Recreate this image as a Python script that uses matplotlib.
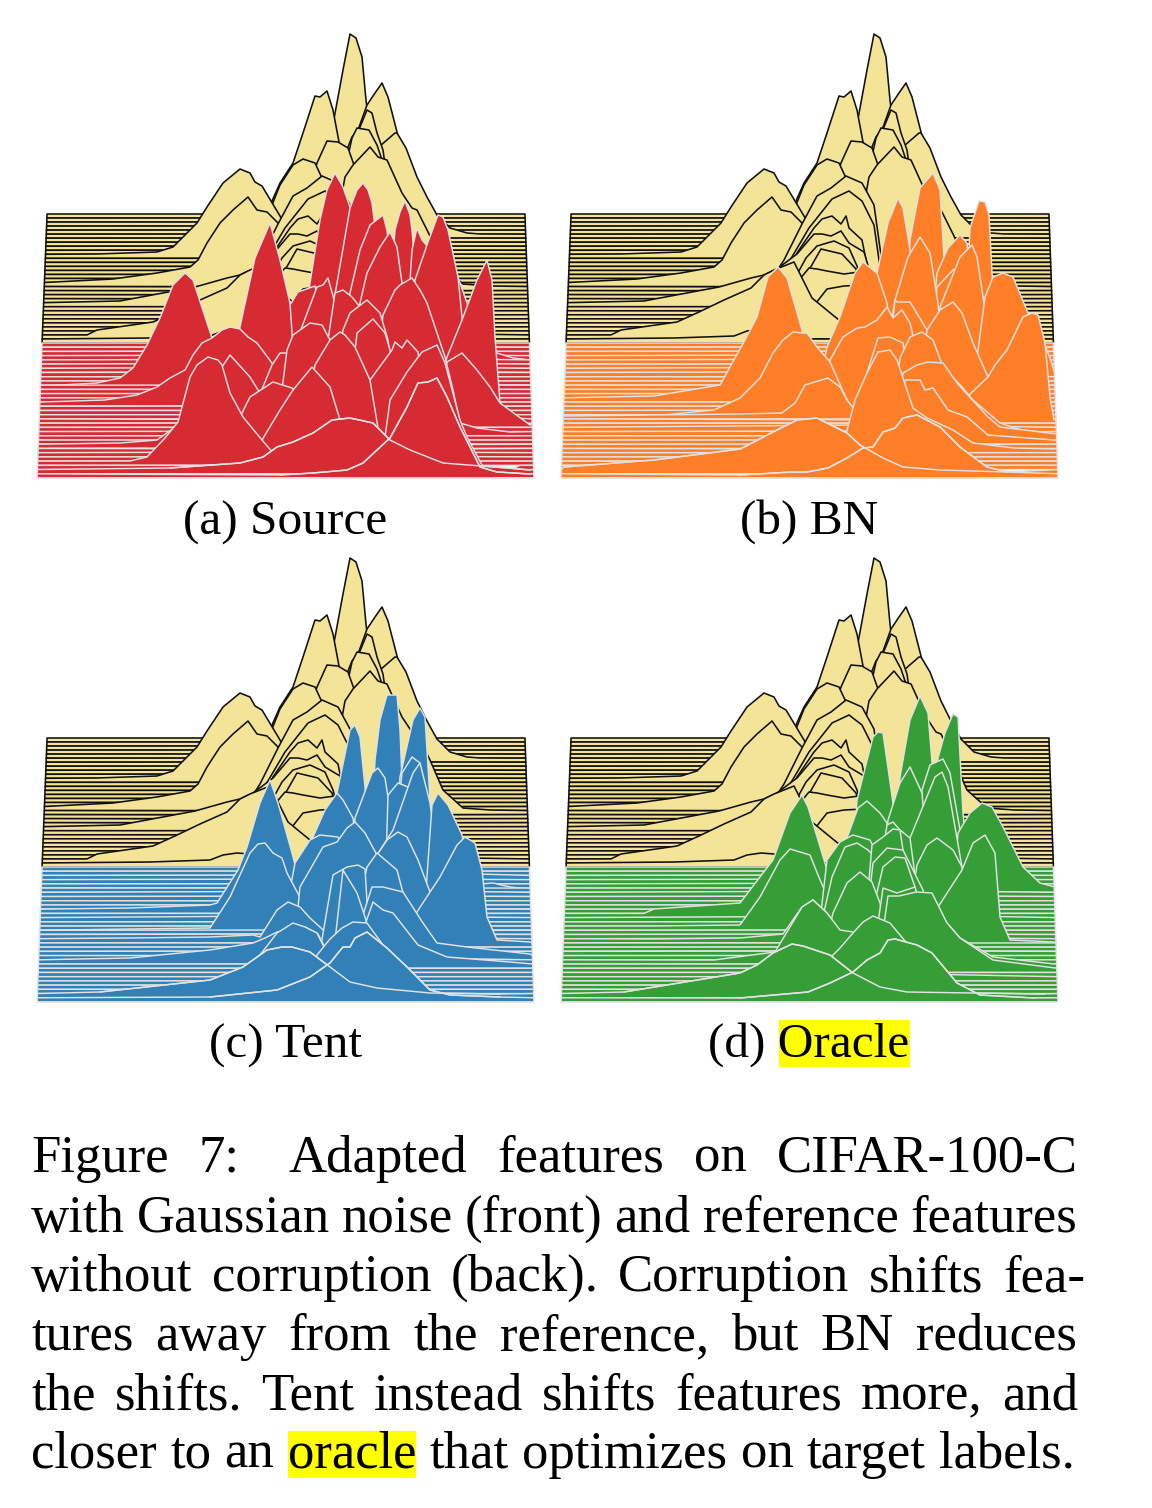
import numpy as np
import matplotlib
matplotlib.use('Agg')
import matplotlib.pyplot as plt
from matplotlib.patches import Rectangle

FIG_W, FIG_H = 1152, 1508
SERIF = ['Liberation Serif', 'DejaVu Serif']

# Each ridge: (row, x values, curve values). Row 0 is the back of the stack, row 64 the front.
# Curve values are read on the panel's y axis, which grows towards the viewer.
reference_ridges = [
    (2, [290, 320, 330, 336, 343, 350, 356, 362, 366, 372, 385, 400], [222, 180, 140, 108, 70, 34, 38, 57, 100, 150, 200, 222]),
    (3, [335, 345, 358, 367, 375, 382, 388, 397, 405, 415, 430], [226, 180, 130, 105, 93, 83, 97, 132, 170, 205, 226]),
    (4, [262, 272, 280, 293, 303, 315, 320, 327, 333, 339, 346, 355], [230, 201, 183, 163, 133, 96, 97, 91, 110, 142, 185, 230]),
    (5, [340, 365, 380, 395, 397, 406, 417, 427, 437, 450, 467, 480], [234, 170, 146, 133, 133, 148, 177, 197, 215, 228, 233, 234]),
    (6, [330, 340, 348, 352, 360, 367, 372, 377, 383, 395], [238, 165, 147, 137, 127, 110, 113, 133, 150, 238]),
    (7, [340, 345, 352, 357, 369, 377, 382, 390], [242, 170, 138, 128, 130, 145, 160, 242]),
    (8, [300, 312, 317, 327, 338, 348, 354, 360, 372], [246, 180, 163, 141, 142, 148, 165, 190, 246]),
    (9, [260, 268, 280, 293, 303, 315, 322, 335], [250, 215, 185, 165, 159, 163, 178, 250]),
    (10, [97, 157, 173, 197, 207, 223, 240, 250, 255, 262, 280, 290, 305], [254, 252, 247, 223, 207, 183, 169, 173, 182, 186, 216, 235, 254]),
    (15, [330, 345, 350, 363, 372, 383, 395], [270, 186, 180, 183, 192, 210, 270]),
    (17, [113, 157, 190, 198, 207, 220, 233, 248, 257, 267, 278, 295, 310], [279, 273, 267, 260, 243, 223, 210, 197, 210, 212, 223, 255, 283]),
    (18, [325, 345, 353, 370, 378, 387, 402, 412, 417, 430, 443, 463, 490], [287, 177, 165, 147, 157, 160, 193, 208, 210, 236, 266, 284, 286]),
    (19, [240, 260, 278, 293, 307, 322, 338, 350, 362], [291, 260, 224, 196, 188, 176, 183, 205, 291]),
    (20, [250, 265, 285, 308, 325, 338, 350, 360], [295, 262, 228, 199, 191, 201, 225, 295]),
    (21, [255, 273, 290, 298, 308, 317, 322, 325, 338, 350], [299, 253, 228, 219, 216, 224, 216, 228, 240, 299]),
    (22, [120, 195, 227, 240, 253, 273, 290, 298, 307, 317, 325, 340, 355], [301, 287, 278, 275, 269, 254, 234, 234, 236, 231, 243, 252, 303]),
    (24, [260, 270, 282, 293, 310, 325, 333, 345], [311, 280, 258, 246, 241, 248, 266, 311]),
    (25, [270, 285, 297, 318, 332, 345], [315, 270, 249, 254, 269, 315]),
    (26, [255, 275, 285, 293, 303, 320, 335, 350], [319, 280, 268, 269, 271, 274, 272, 319]),
    (28, [275, 292, 303, 320, 340, 355], [327, 303, 289, 286, 285, 327]),
    (30, [97, 153, 175, 200, 227, 240, 250, 270, 288, 310, 330], [330, 322, 312, 300, 288, 275, 270, 262, 298, 316, 332]),
    (31, [150, 210, 223, 237, 250, 265], [338, 336, 331, 329, 330, 339]),
]

source_ridges = [
    (33, [300, 310, 320, 327, 335, 343, 350, 358, 365], [347, 283, 220, 190, 173, 187, 207, 260, 347]),
    (34, [325, 337, 350, 357, 363, 368, 372, 378, 390], [351, 283, 208, 190, 183, 190, 203, 250, 351]),
    (35, [385, 395, 400, 405, 410, 412, 416, 425], [355, 230, 212, 201, 215, 230, 278, 355]),
    (36, [400, 430, 445, 458, 467, 480, 497, 513], [359, 262, 245, 277, 303, 340, 353, 358]),
    (36, [405, 412, 417, 422, 428, 440], [359, 250, 228, 240, 247, 359]),
    (37, [335, 350, 360, 370, 383, 387, 395, 405], [363, 293, 250, 225, 215, 230, 300, 363]),
    (38, [345, 367, 380, 390, 397, 402, 412], [367, 273, 247, 232, 247, 283, 367]),
    (39, [400, 415, 428, 438, 443, 448, 458, 462, 470], [372, 280, 242, 215, 217, 230, 277, 317, 372]),
    (39, [275, 290, 298, 315, 330], [372, 305, 292, 286, 372]),
    (40, [290, 300, 317, 323, 328, 343, 352], [377, 332, 287, 285, 278, 332, 377]),
    (40, [225, 240, 243, 255, 270, 280, 290, 295], [377, 327, 313, 258, 223, 260, 303, 377]),
    (42, [43, 97, 120, 133, 147, 160, 173, 185, 193, 212, 225], [386, 383, 378, 368, 345, 318, 285, 273, 280, 338, 385]),
    (42, [320, 328, 335, 343, 352, 360, 375], [385, 340, 293, 290, 297, 307, 385]),
    (46, [105, 137, 157, 170, 185, 193, 202, 212, 222, 230, 240, 248, 257, 272, 290], [400, 395, 387, 378, 370, 355, 343, 338, 330, 327, 329, 337, 343, 363, 402]),
    (47, [255, 272, 280, 287, 298, 305, 320], [406, 365, 353, 353, 355, 368, 406]),
    (47, [280, 287, 293, 310, 322, 330, 345], [406, 350, 335, 323, 325, 340, 406]),
    (50, [430, 447, 462, 477, 487, 492, 495, 500, 515], [420, 357, 320, 280, 260, 280, 337, 403, 418]),
    (51, [430, 447, 462, 477, 490, 500, 530], [423, 362, 353, 370, 387, 403, 425]),
    (53, [370, 383, 395, 400, 412, 420, 427, 445, 453, 460, 477, 510], [431, 315, 290, 285, 278, 290, 303, 357, 390, 423, 428, 432]),
    (55, [330, 343, 350, 367, 380, 388, 400], [440, 330, 313, 300, 313, 340, 440]),
    (56, [345, 357, 373, 385, 390, 402], [444, 333, 319, 333, 350, 444]),
    (56, [120, 157, 178, 200, 222, 230, 250, 258, 270, 290], [443, 440, 425, 395, 367, 355, 377, 390, 410, 445]),
    (57, [232, 242, 250, 273, 292, 305, 320], [448, 413, 397, 382, 388, 400, 449]),
    (57, [350, 370, 392, 395, 402, 407, 418, 430], [449, 380, 350, 342, 348, 340, 352, 449]),
    (58, [300, 315, 330, 340, 345, 355, 370, 382], [452, 365, 340, 332, 335, 347, 380, 452]),
    (59, [262, 280, 293, 312, 330, 340, 345], [440, 410, 390, 367, 387, 420, 456]),
    (60, [130, 147, 165, 178, 190, 197, 208, 218, 222, 230, 243, 262, 280], [461, 457, 438, 422, 377, 365, 357, 360, 365, 393, 417, 440, 461]),
    (61, [382, 390, 407, 422, 437, 445, 460, 467, 483, 510], [460, 400, 372, 352, 345, 363, 420, 437, 467, 470]),
    (62, [170, 240, 263, 277, 293, 313, 332, 350, 373, 390, 410, 443, 507, 530], [468, 463, 457, 447, 442, 433, 420, 418, 423, 440, 450, 463, 468, 470]),
    (63, [280, 313, 347, 363, 390, 407, 418, 428, 437, 447, 460, 480, 497, 530], [475, 473, 470, 463, 438, 407, 383, 382, 378, 397, 427, 467, 472, 474]),
]

bn_ridges = [
    (33, [380, 386, 396, 409, 416, 419, 425], [347, 240, 188, 173, 190, 240, 347]),
    (34, [440, 446, 455, 461, 465, 468, 475], [351, 228, 201, 202, 215, 273, 351]),
    (35, [345, 353, 364, 374, 379, 386, 392], [355, 273, 223, 198, 208, 250, 355]),
    (36, [405, 413, 424, 436, 443, 452], [359, 273, 248, 235, 243, 359]),
    (37, [405, 413, 429, 440, 450], [364, 287, 270, 265, 364]),
    (38, [360, 371, 384, 396, 406, 414, 420], [367, 300, 257, 237, 253, 303, 367]),
    (39, [505, 515, 526], [371, 330, 358]),
    (40, [410, 416, 436, 448, 453, 461, 471], [377, 307, 257, 245, 257, 310, 375]),
    (41, [450, 461, 469, 479, 489, 504, 515], [381, 297, 277, 273, 277, 313, 381]),
    (42, [295, 303, 316, 331, 339, 353, 363, 372], [385, 347, 317, 273, 262, 273, 303, 385]),
    (45, [130, 196, 221, 233, 244, 254, 263, 278, 290], [396, 385, 340, 317, 277, 267, 278, 330, 398]),
    (46, [360, 371, 373, 386, 403, 412], [402, 300, 302, 302, 330, 402]),
    (47, [395, 403, 416, 429, 438, 449, 464, 475], [406, 330, 310, 302, 313, 343, 377, 406]),
    (48, [295, 306, 319, 333, 341, 353, 363, 369, 378, 386, 403], [410, 360, 337, 328, 327, 320, 307, 318, 310, 323, 395]),
    (49, [130, 190, 216, 236, 249, 259, 269, 278, 283, 293, 306, 323], [416, 410, 398, 378, 353, 340, 332, 333, 333, 347, 362, 400]),
    (49, [40, 216, 258, 271, 281, 304, 316, 323, 331, 343], [416, 414, 413, 403, 385, 378, 387, 400, 410, 412]),
    (50, [405, 443, 464, 471, 483, 499, 508, 514, 521, 526, 530], [420, 397, 377, 365, 350, 317, 313, 315, 343, 397, 420]),
    (52, [331, 343, 354, 366, 379, 392], [425, 373, 338, 337, 343, 425]),
    (53, [366, 376, 386, 398, 409, 419, 438, 449, 476, 503], [431, 358, 337, 332, 340, 367, 387, 400, 423, 432]),
    (54, [370, 379, 393, 404, 419, 433, 464, 476, 533], [436, 373, 365, 362, 363, 383, 417, 427, 434]),
    (55, [375, 381, 396, 401, 409, 424, 443, 464, 530], [440, 380, 380, 390, 388, 410, 417, 435, 440]),
    (56, [310, 319, 331, 339, 349, 366, 384], [444, 433, 427, 415, 405, 398, 398]),
    (57, [318, 331, 343, 354, 366, 373, 383, 389, 403, 429, 449, 490, 530], [449, 400, 373, 352, 350, 360, 390, 408, 418, 430, 443, 448, 449]),
    (62, [40, 130, 216, 228, 249, 273, 293, 323, 336, 359, 379, 416, 483], [467, 460, 449, 443, 432, 420, 418, 433, 445, 458, 467, 470, 472]),
    (63, [216, 268, 283, 304, 323, 339, 349, 359, 371, 379, 393, 416, 436, 463, 483], [475, 472, 472, 468, 458, 448, 447, 432, 428, 418, 415, 427, 447, 467, 472]),
]

tent_ridges = [
    (33, [370, 375, 380, 387, 397, 400, 402, 408], [347, 236, 196, 171, 171, 206, 256, 347]),
    (34, [395, 400, 413, 420, 425, 430, 440], [351, 253, 196, 184, 193, 276, 349]),
    (35, [330, 337, 350, 355, 360, 365, 372], [355, 269, 206, 201, 213, 263, 355]),
    (37, [480, 493, 510, 528], [360, 359, 363, 365]),
    (37, [350, 355, 372, 378, 385, 392, 400], [364, 294, 249, 244, 254, 299, 364]),
    (38, [390, 402, 412, 420, 428], [367, 249, 233, 239, 367]),
    (39, [385, 388, 398, 408, 420], [372, 271, 259, 263, 372]),
    (40, [370, 377, 393, 413, 420, 430, 440], [377, 331, 306, 249, 239, 279, 353]),
    (41, [425, 432, 438, 448, 462, 475], [381, 281, 269, 281, 311, 381]),
    (42, [300, 313, 325, 337, 343, 353, 365], [385, 313, 286, 269, 276, 294, 385]),
    (42, [130, 210, 217, 238, 247, 260, 270, 278, 292, 300], [384, 381, 379, 346, 323, 279, 256, 279, 329, 359]),
    (44, [285, 295, 310, 320, 338, 350, 360], [392, 339, 316, 311, 313, 335, 392]),
    (47, [130, 210, 230, 250, 258, 265, 273, 282, 287, 303], [405, 404, 373, 329, 320, 319, 329, 334, 349, 379]),
    (47, [300, 308, 322, 333, 347, 355, 367, 377], [406, 383, 353, 349, 329, 324, 329, 331]),
    (48, [345, 358, 377, 387, 398, 407, 418, 430], [410, 366, 331, 316, 308, 313, 336, 368]),
    (48, [307, 322, 328, 335, 350, 353, 362], [410, 353, 356, 353, 376, 396, 410]),
    (49, [295, 300, 323, 337, 347, 355, 365, 377, 385], [414, 363, 323, 318, 304, 298, 309, 331, 414]),
    (49, [130, 210, 253, 260, 277, 288, 300, 310, 332], [414, 413, 411, 413, 386, 378, 383, 394, 414]),
    (50, [405, 415, 430, 440, 457, 465, 475, 482, 487, 497, 530], [419, 391, 368, 353, 321, 313, 319, 346, 393, 416, 418]),
    (51, [350, 367, 377, 397, 403, 412], [423, 343, 329, 346, 369, 423]),
    (52, [320, 333, 347, 358, 365, 370], [427, 351, 343, 341, 345, 427]),
    (53, [360, 372, 383, 403, 423, 437, 467, 530], [400, 363, 363, 368, 399, 419, 423, 430]),
    (54, [333, 343, 357, 367, 375], [434, 346, 369, 399, 434]),
    (54, [130, 210, 253, 265, 277, 290, 305, 318, 330], [434, 426, 419, 414, 408, 406, 403, 410, 434]),
    (55, [360, 373, 383, 393, 418, 447, 510], [415, 378, 386, 389, 421, 433, 438]),
    (59, [250, 260, 277, 293, 305, 317, 330], [440, 431, 409, 399, 403, 409, 435]),
    (60, [317, 330, 342, 353, 367, 383, 395], [431, 415, 404, 398, 399, 421, 450]),
    (62, [100, 210, 243, 267, 282, 292, 310, 330, 350, 377, 430, 500], [468, 456, 443, 426, 423, 423, 428, 443, 458, 464, 469, 470]),
    (63, [210, 277, 310, 327, 330, 338, 343, 350, 355, 367, 387, 407, 430, 450, 500], [473, 466, 453, 441, 439, 429, 423, 423, 414, 408, 424, 443, 466, 471, 473]),
]

oracle_ridges = [
    (33, [370, 376, 386, 396, 404, 408, 415], [347, 253, 196, 172, 189, 238, 347]),
    (34, [408, 414, 421, 429, 434, 439, 445], [351, 234, 209, 190, 193, 289, 351]),
    (35, [328, 333, 349, 354, 359, 369, 375], [355, 276, 213, 208, 209, 279, 355]),
    (36, [395, 398, 406, 419, 426, 436, 442], [359, 266, 241, 235, 249, 306, 359]),
    (37, [430, 434, 446, 458, 468, 479, 499, 516, 531], [364, 309, 289, 279, 283, 303, 343, 359, 363]),
    (38, [358, 364, 376, 386, 398, 399, 405], [367, 296, 259, 243, 269, 281, 367]),
    (39, [380, 386, 411, 418, 424, 438, 442], [372, 314, 253, 248, 263, 343, 372]),
    (40, [315, 323, 334, 343, 356, 363, 370], [377, 314, 284, 277, 289, 299, 377]),
    (41, [350, 363, 369, 376, 386, 395], [381, 301, 298, 306, 314, 381]),
    (43, [130, 216, 249, 266, 278, 284, 304, 308], [385, 379, 336, 289, 271, 283, 349, 373]),
    (44, [385, 393, 403, 413, 429, 438, 445], [392, 341, 321, 314, 326, 343, 392]),
    (46, [130, 216, 236, 256, 266, 286, 294, 309, 325], [402, 401, 373, 336, 325, 331, 351, 386, 402]),
    (47, [295, 303, 316, 329, 346, 356, 368], [406, 336, 318, 311, 316, 336, 406]),
    (48, [295, 308, 321, 333, 344, 359, 372], [410, 353, 323, 319, 326, 341, 410]),
    (49, [340, 348, 359, 369, 376, 392], [414, 321, 313, 305, 306, 414]),
    (49, [130, 216, 259, 278, 289, 303, 316, 329, 340], [415, 414, 410, 383, 376, 389, 406, 408, 414]),
    (50, [410, 414, 438, 449, 461, 471, 476, 486, 530], [419, 383, 346, 319, 311, 329, 393, 416, 418]),
    (50, [340, 349, 363, 379, 399, 408], [419, 339, 324, 326, 366, 419]),
    (51, [340, 359, 371, 381, 391, 400], [423, 343, 333, 334, 363, 423]),
    (52, [300, 309, 323, 336, 348, 356, 359, 366], [427, 389, 359, 348, 358, 379, 394, 427]),
    (52, [350, 359, 373, 391, 410], [427, 364, 369, 363, 427]),
    (54, [190, 251, 278, 289, 303, 316, 329, 340], [436, 428, 383, 376, 389, 406, 408, 414]),
    (55, [360, 369, 379, 388, 396, 406, 416, 436, 469, 530], [420, 384, 383, 384, 381, 393, 391, 414, 433, 440]),
    (56, [360, 364, 375, 392, 408, 423, 436, 469, 531], [400, 372, 372, 368, 369, 399, 414, 436, 444]),
    (58, [309, 316, 329, 339, 349, 366, 386, 395], [431, 424, 409, 398, 392, 399, 423, 450]),
    (62, [100, 216, 233, 249, 268, 279, 306, 329, 356, 383, 449, 520], [468, 449, 441, 429, 420, 422, 431, 449, 463, 468, 469, 470]),
    (63, [216, 284, 306, 329, 343, 356, 364, 371, 393, 408, 433, 456, 510], [474, 468, 459, 448, 436, 429, 416, 415, 421, 429, 459, 471, 474]),
]

panel_labels = ['(a) Source', '(b) BN', '(c) Tent', '(d) Oracle']
panel_colors = ['#d62b32', '#fe7f27', '#3180b8', '#359e37']
panel_ridges = [source_ridges, bn_ridges, tent_ridges, oracle_ridges]
back_color = '#f4e497'
back_line = '#111111'
front_line = '#e2e2e2'

caption_lines = [
    'Figure 7:  Adapted features on CIFAR-100-C',
    'with Gaussian noise (front) and reference features',
    'without corruption (back). Corruption shifts fea-',
    'tures away from the reference, but BN reduces',
    'the shifts. Tent instead shifts features more, and',
    'closer to an oracle that optimizes on target labels.',
]


def baseline(row):
    return np.interp(row, [0, 32, 64], [214, 343, 478])


def draw_row(ax, row, xs, ys, fill, line, z):
    left = np.interp(row, [0, 64], [47, 37])
    right = np.interp(row, [0, 64], [525, 534])
    base = baseline(row)
    under = baseline(min(row + 1, 64))
    xs, ys = list(xs), list(ys)
    # a curve that starts or stops above its row falls back to it right away
    if ys and abs(ys[0] - base) > 4:
        xs, ys = [xs[0] - 10] + xs, [base] + ys
    if ys and abs(ys[-1] - base) > 4:
        xs, ys = xs + [min(xs[-1] + 10, right)], ys + [base]
    px = [left] + xs + [right, right, left]
    py = [base] + ys + [base, under, under]
    lw = 1.15 if line == back_line else 1.05
    patches = ax.fill(px, py, facecolor=fill, edgecolor=line, linewidth=lw, zorder=z, closed=True)
    for p in patches:
        p.set_snap(False)
        p.set_joinstyle('round')


def draw_stack(ax, first, last, ridges, fill, line):
    by_row = {}
    for row, xs, ys in ridges:
        by_row.setdefault(row, []).append((xs, ys))
    for row in range(first, last + 1):
        z = 2 + row * 0.1
        if row in by_row:
            for i, (xs, ys) in enumerate(by_row[row]):
                draw_row(ax, row, xs, ys, fill, line, z + i * 0.01)
        else:
            draw_row(ax, row, [], [], fill, line, z)


fig = plt.figure(figsize=(FIG_W / 100, FIG_H / 100), dpi=100, facecolor='white')

# panels sit on a 2x2 grid, all with the same data window
offsets = [(0, 0), (524, 0), (0, 524), (524, 524)]
for (dx, dy), ridges, color in zip(offsets, panel_ridges, panel_colors):
    ax = fig.add_axes([(30 + dx) / FIG_W, 1 - (485 + dy) / FIG_H, 510 / FIG_W, 465 / FIG_H])
    ax.set_xlim(30, 540)
    ax.set_ylim(485, 20)
    ax.axis('off')
    draw_stack(ax, 0, 31, reference_ridges, back_color, back_line)
    draw_stack(ax, 32, 64, ridges, color, front_line)
    # the two front curves stay visible where they cross
    for row, xs, ys in ridges:
        if row >= 62:
            ax.plot(xs, ys, color=front_line, lw=1.05, zorder=12)

overlay = fig.add_axes([0, 0, 1, 1])
overlay.set_xlim(0, FIG_W)
overlay.set_ylim(FIG_H, 0)
overlay.axis('off')
overlay.patch.set_alpha(0)

label_pos = [(285, 535), (809, 534), (286, 1058), (809, 1057)]
for text, (x, y) in zip(panel_labels, label_pos):
    overlay.text(x, y, text, family=SERIF, fontsize=35.6, ha='center', va='baseline', color='black')
overlay.add_patch(Rectangle((779, 1020), 131, 47, facecolor='#ffff00', edgecolor='none', zorder=0))

# caption is justified by hand, one word at a time
renderer = fig.canvas.get_renderer()
line_y = [1172, 1232, 1291, 1350, 1409, 1468]
line_x = [(31, 1078), (31, 1077), (31, 1085), (31, 1077), (31, 1078), (31, 1075)]
colon_extra = 18
for line, y, (x0, x1) in zip(caption_lines, line_y, line_x):
    words = line.split()
    items = [overlay.text(0, y, w, family=SERIF, fontsize=38, ha='left', va='baseline', color='black', zorder=3) for w in words]
    widths = [t.get_window_extent(renderer).width for t in items]
    extra = colon_extra if '7:' in words else 0
    gap = (x1 - x0 - sum(widths) - extra) / (len(words) - 1)
    x = x0
    for word, t, w in zip(words, items, widths):
        t.set_x(x)
        if word == 'oracle':
            overlay.add_patch(Rectangle((x, 1431), w, 47, facecolor='#ffff00', edgecolor='none', zorder=0))
        x += w + gap
        if word == '7:':
            x += colon_extra

fig.savefig('out.png', dpi=100, facecolor='white')
